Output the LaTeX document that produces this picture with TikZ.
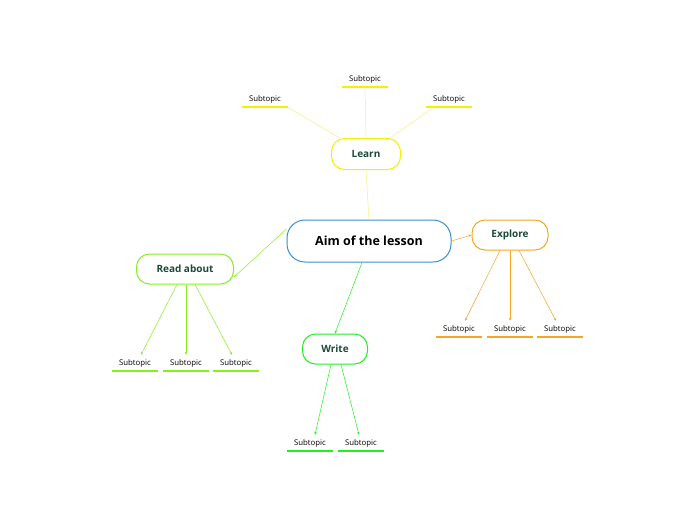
\documentclass[tikz,border=0pt]{standalone}
\usepackage{fontspec}
\setmainfont{Open Sans}
\usetikzlibrary{arrows.meta}
\definecolor{cy}{HTML}{F2F200}
\definecolor{cyl}{HTML}{EFEF80}
\definecolor{co}{HTML}{F5A623}
\definecolor{cg}{HTML}{88EE22}
\definecolor{cw}{HTML}{22EE22}
\definecolor{cb}{HTML}{3A8FD0}
\definecolor{ct}{HTML}{1A4A3A}
\begin{document}
\begin{tikzpicture}[x=1pt,y=-1pt,
  topic/.style={draw=#1,line width=1pt,rounded corners=13pt,fill=white,font=\bfseries\fontsize{10}{12}\selectfont,text=ct,inner sep=0pt},
  sub/.style={minimum width=45pt,minimum height=16pt,inner sep=0pt,font=\fontsize{7.8}{9}\selectfont,
     append after command={(\tikzlastnode.south west) edge[draw=#1,line width=1.5pt] (\tikzlastnode.south east)}},
  conn/.style={draw=#1,line width=0.5pt},
  arr/.style={draw=#1,line width=0.5pt,-{Stealth[length=3pt,width=2.5pt]}}]
\useasboundingbox (0,0) rectangle (697,520);
\node[topic=cb,minimum width=164pt,minimum height=42pt,rounded corners=18pt,text=black,font=\bfseries\fontsize{12.5}{14}\selectfont] (c) at (369,241) {Aim of the lesson};
\node[topic=cy,minimum width=69pt,minimum height=31pt] (l) at (366,154) {Learn};
\node[topic=co,minimum width=76pt,minimum height=30pt] (e) at (510,235) {Explore};
\node[topic=cg,minimum width=97pt,minimum height=30pt] (r) at (185,269) {Read about};
\node[topic=cw,minimum width=65pt,minimum height=30pt] (w) at (335,349) {Write};
% subtopics
\node[sub=cy] (l1) at (265,99) {Subtopic};
\node[sub=cy] (l2) at (365,79) {Subtopic};
\node[sub=cy] (l3) at (449,99) {Subtopic};
\node[sub=co] (e1) at (459,329) {Subtopic};
\node[sub=co] (e2) at (510,329) {Subtopic};
\node[sub=co] (e3) at (560,329) {Subtopic};
\node[sub=cg] (r1) at (135,363) {Subtopic};
\node[sub=cg] (r2) at (186,363) {Subtopic};
\node[sub=cg] (r3) at (236,363) {Subtopic};
\node[sub=cw] (w1) at (310,443) {Subtopic};
\node[sub=cw] (w2) at (361,443) {Subtopic};
% connectors
\draw[conn=cyl] (c.north) -- (l.south);
\draw[arr=co] (c.east) -- (e.west);
\draw[arr=cg] ([yshift=12pt]c.west) -- ([yshift=-8pt]r.east);
\draw[arr=cw] ([xshift=-7pt]c.south) -- (w.north);
\draw[conn=cyl] ([xshift=-26pt]l.north) -- (l1.south east);
\draw[conn=cyl] (l.north) -- (l2.south);
\draw[conn=cyl] ([xshift=24pt]l.north) -- ([xshift=-15pt]l3.south);
\draw[arr=co] ([xshift=-10pt]e.south) -- ([xshift=6pt]e1.north);
\draw[arr=co] (e.south) -- (e2.north);
\draw[arr=co] ([xshift=9pt]e.south) -- ([xshift=-4pt]e3.north);
\draw[arr=cg] ([xshift=-8pt]r.south) -- ([xshift=6pt]r1.north);
\draw[arr=cg] ([xshift=1pt]r.south) -- (r2.north);
\draw[arr=cg] ([xshift=10pt]r.south) -- ([xshift=-4pt]r3.north);
\draw[arr=cw] ([xshift=-4pt]w.south) -- ([xshift=5pt]w1.north);
\draw[arr=cw] ([xshift=6pt]w.south) -- ([xshift=-2pt]w2.north);
\end{tikzpicture}
\end{document}
